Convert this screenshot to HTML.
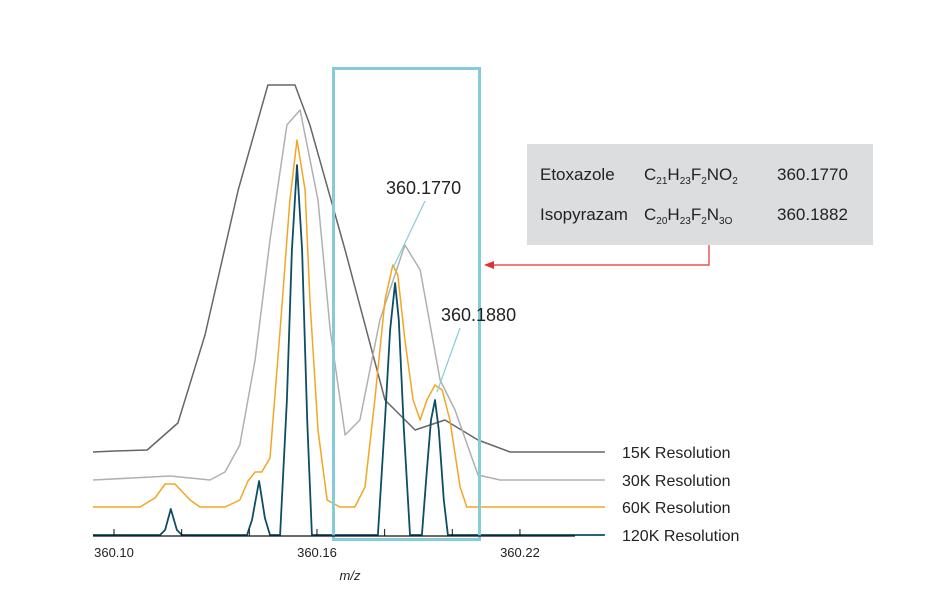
<!DOCTYPE html>
<html><head><meta charset="utf-8"><style>
body{margin:0;background:#fff;}
svg{display:block;font-family:"Liberation Sans",sans-serif;}
</style></head><body>
<svg id="c" width="950" height="609" viewBox="0 0 950 609">
<rect x="527" y="144" width="346" height="101" fill="#dcdddf"/>
<g font-size="17" fill="#222">
<text x="540" y="180">Etoxazole</text>
<text x="644" y="180">C<tspan font-size="10" dy="4">21</tspan><tspan dy="-4">H</tspan><tspan font-size="10" dy="4">23</tspan><tspan dy="-4">F</tspan><tspan font-size="10" dy="4">2</tspan><tspan dy="-4">NO</tspan><tspan font-size="10" dy="4">2</tspan></text>
<text x="777" y="180">360.1770</text>
<text x="540" y="220">Isopyrazam</text>
<text x="644" y="220">C<tspan font-size="10" dy="4">20</tspan><tspan dy="-4">H</tspan><tspan font-size="10" dy="4">23</tspan><tspan dy="-4">F</tspan><tspan font-size="10" dy="4">2</tspan><tspan dy="-4">N</tspan><tspan font-size="10" dy="4">3O</tspan></text>
<text x="777" y="220">360.1882</text>
</g>
<path d="M709 245 V265 H492" fill="none" stroke="#e03030" stroke-width="1.2"/>
<path d="M484 265 L494 261 L494 269 Z" fill="#e03030"/>
<g id="series"></g>
<rect x="333.5" y="68.5" width="146" height="471" fill="none" stroke="#86ccd8" stroke-width="3"/>
<line x1="93" y1="536" x2="575" y2="536" stroke="#111" stroke-width="1.2"/>
<g id="ticks"></g>
<text x="350" y="580" font-size="13" font-style="italic" text-anchor="middle" fill="#222">m/z</text>
<text x="386" y="194" font-size="18" fill="#222">360.1770</text>
<line x1="425" y1="201" x2="393" y2="268" stroke="#86ccd8" stroke-width="1.2"/>
<text x="441" y="321" font-size="18" fill="#222">360.1880</text>
<line x1="460" y1="328" x2="437" y2="392" stroke="#86ccd8" stroke-width="1.2"/>
</svg>
<script>
const mz15=[360.0938,360.1003,360.1098,360.1189,360.1269,360.1367,360.1455,360.1535,360.1579,360.1683,360.1801,360.1890,360.1978,360.2076,360.2171,360.2451];
const int15=[0,1,2,29,117,262,367,367,327,202,52,22,32,12,0,0];
const mz30=[360.0938,360.1166,360.1284,360.1328,360.1372,360.1417,360.1461,360.1511,360.1550,360.1603,360.1639,360.1683,360.1727,360.1786,360.1860,360.1905,360.1964,360.2008,360.2076,360.2141,360.2451];
const int30=[0,4,0,8,35,120,240,355,370,280,150,45,60,160,235,210,100,70,5,0,0];
const mz60=[360.0938,360.1077,360.1121,360.1151,360.1180,360.1225,360.1254,360.1328,360.1372,360.1396,360.1417,360.1437,360.1461,360.1491,360.1520,360.1541,360.1565,360.1579,360.1603,360.1630,360.1668,360.1712,360.1742,360.1771,360.1801,360.1824,360.1839,360.1860,360.1884,360.1905,360.1925,360.1949,360.1970,360.1993,360.2023,360.2043,360.2451];
const int60=[0,0,9,23,23,7,0,0,7,26,35,35,49,177,307,367,317,207,77,7,0,0,20,107,207,242,232,167,107,87,107,122,117,87,20,0,0];
const mz120=[360.0938,360.1136,360.1151,360.1168,360.1186,360.1201,360.1393,360.1408,360.1429,360.1446,360.1461,360.1491,360.1511,360.1526,360.1541,360.1556,360.1571,360.1585,360.1780,360.1801,360.1816,360.1831,360.1842,360.1857,360.1875,360.1910,360.1925,360.1937,360.1949,360.1960,360.1975,360.1987,360.2451];
const int120=[0,0,5,26,5,0,0,15,54,17,0,0,135,285,370,285,115,0,0,115,205,252,215,105,0,0,65,115,135,105,35,0,0];
const seriesNames=["15K Resolution","30K Resolution","60K Resolution","120K Resolution"];
const tickVals=[360.10,360.12,360.14,360.16,360.18,360.20,360.22];
const tickLabels=["360.10","","","360.16","","","360.22"];

const NS="http://www.w3.org/2000/svg";
function xs(m){return 114+(m-360.10)*3383;}
function ys(v,base){return base-v;}
const cfg=[[mz15,int15,452,"#666666"],[mz30,int30,480,"#b0b0b0"],[mz60,int60,507,"#f2a623"],[mz120,int120,535,"#0d4d66"]];
const g=document.getElementById('series');
cfg.forEach((c,i)=>{
  const p=document.createElementNS(NS,'polyline');
  p.setAttribute('points',c[0].map((m,j)=>xs(m).toFixed(1)+','+ys(c[1][j],c[2]).toFixed(1)).join(' '));
  p.setAttribute('fill','none');p.setAttribute('stroke',c[3]);p.setAttribute('stroke-width',i==3?'1.8':'1.5');
  p.setAttribute('stroke-linejoin','round');
  
  
  g.appendChild(p);
  const t=document.createElementNS(NS,'text');
  t.setAttribute('x',622);t.setAttribute('y',c[2]+6);t.setAttribute('font-size','16');t.setAttribute('fill','#222');
  t.textContent=seriesNames[i];
  
  
  document.getElementById('c').appendChild(t);
});
const tg=document.getElementById('ticks');
tickVals.forEach((v,i)=>{
  const l=document.createElementNS(NS,'line');
  const x=xs(v);
  l.setAttribute('x1',x);l.setAttribute('x2',x);l.setAttribute('y1',529);l.setAttribute('y2',536);l.setAttribute('stroke','#111');
  
  
  tg.appendChild(l);
  if(tickLabels[i]){
    const t=document.createElementNS(NS,'text');
    t.setAttribute('x',x);t.setAttribute('y',557);t.setAttribute('font-size','13');t.setAttribute('text-anchor','middle');t.setAttribute('fill','#222');
    t.textContent=tickLabels[i];
    
    
    tg.appendChild(t);
  }
});
</script>
</body></html>
